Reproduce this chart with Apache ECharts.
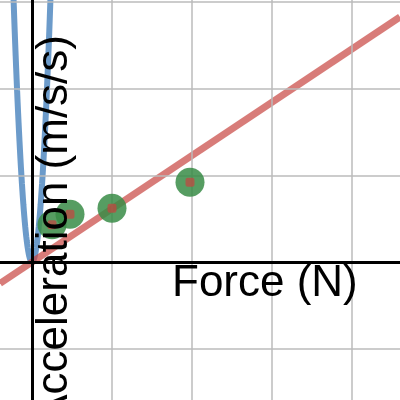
<!DOCTYPE html>
<html><head><meta charset="utf-8">
<script src="https://cdn.jsdelivr.net/npm/echarts@6/dist/echarts.min.js"></script>
<style>html,body{margin:0;padding:0;}#c{width:400px;height:400px;}</style>
</head><body><div id="c"></div>
<script>
// data
const forceN = [0.25, 0.475, 1.0, 1.975];
const accel = [0.43, 0.55, 0.62, 0.92];
const lineSlope = [0.614];
const parabolaCoef = [57];
const gridX = [1, 2, 3, 4];
const gridY = [-1, 1, 2, 3];
const xRange = [-0.4, 4.6];
const yRange = [-1.59, 3.02];

const fitLine = [[xRange[0], lineSlope[0]*xRange[0]], [xRange[1], lineSlope[0]*xRange[1]]];
const parab = [];
for (let i = -40; i <= 40; i++) { const x = i*0.006; parab.push([x, parabolaCoef[0]*x*x]); }

const chart = echarts.init(document.getElementById('c'));
const gray = {color:'#bbbbbb', width:1.5, type:'solid'};
chart.setOption({
  animation:false,
  grid:{left:0,right:0,top:0,bottom:0},
  xAxis:{type:'value',min:xRange[0],max:xRange[1],show:false},
  yAxis:{type:'value',min:yRange[0],max:yRange[1],show:false},
  series:[
    {type:'line',data:[],silent:true,
     markLine:{symbol:'none',silent:true,label:{show:false},lineStyle:gray,
       data:gridX.map(v=>({xAxis:v})).concat(gridY.map(v=>({yAxis:v})))}},
    {type:'line',data:[],silent:true,
     markLine:{symbol:'none',silent:true,label:{show:false},lineStyle:{color:'#000',width:3,type:'solid'},
       data:[{xAxis:0},{yAxis:0}]}},
    {type:'line',data:parab,showSymbol:false,smooth:false,lineStyle:{color:'#2d70b3',width:6,opacity:0.7},z:3},
    {type:'line',data:fitLine,showSymbol:false,lineStyle:{color:'#c74440',width:7,opacity:0.7},z:4},
    {type:'scatter',data:forceN.map((x,i)=>[x,accel[i]]),symbolSize:29,itemStyle:{color:'#388c46',opacity:0.85},z:5},
    {type:'scatter',data:forceN.map((x,i)=>[x,accel[i]]),symbol:'roundRect',symbolSize:9,itemStyle:{color:'#c74440',opacity:0.7},z:6}
  ],
  graphic:[
    {type:'text',left:172,top:262,z:10,style:{text:'Force (N)',font:'44px "Liberation Sans"',fill:'#000'}},
    {type:'text',x:77,y:35,rotation:Math.PI/2,z:10,style:{text:'Acceleration (m/s/s)',font:'44px "Liberation Sans"',fill:'#000',textAlign:'right',textVerticalAlign:'bottom'}}
  ]
});
</script></body></html>
